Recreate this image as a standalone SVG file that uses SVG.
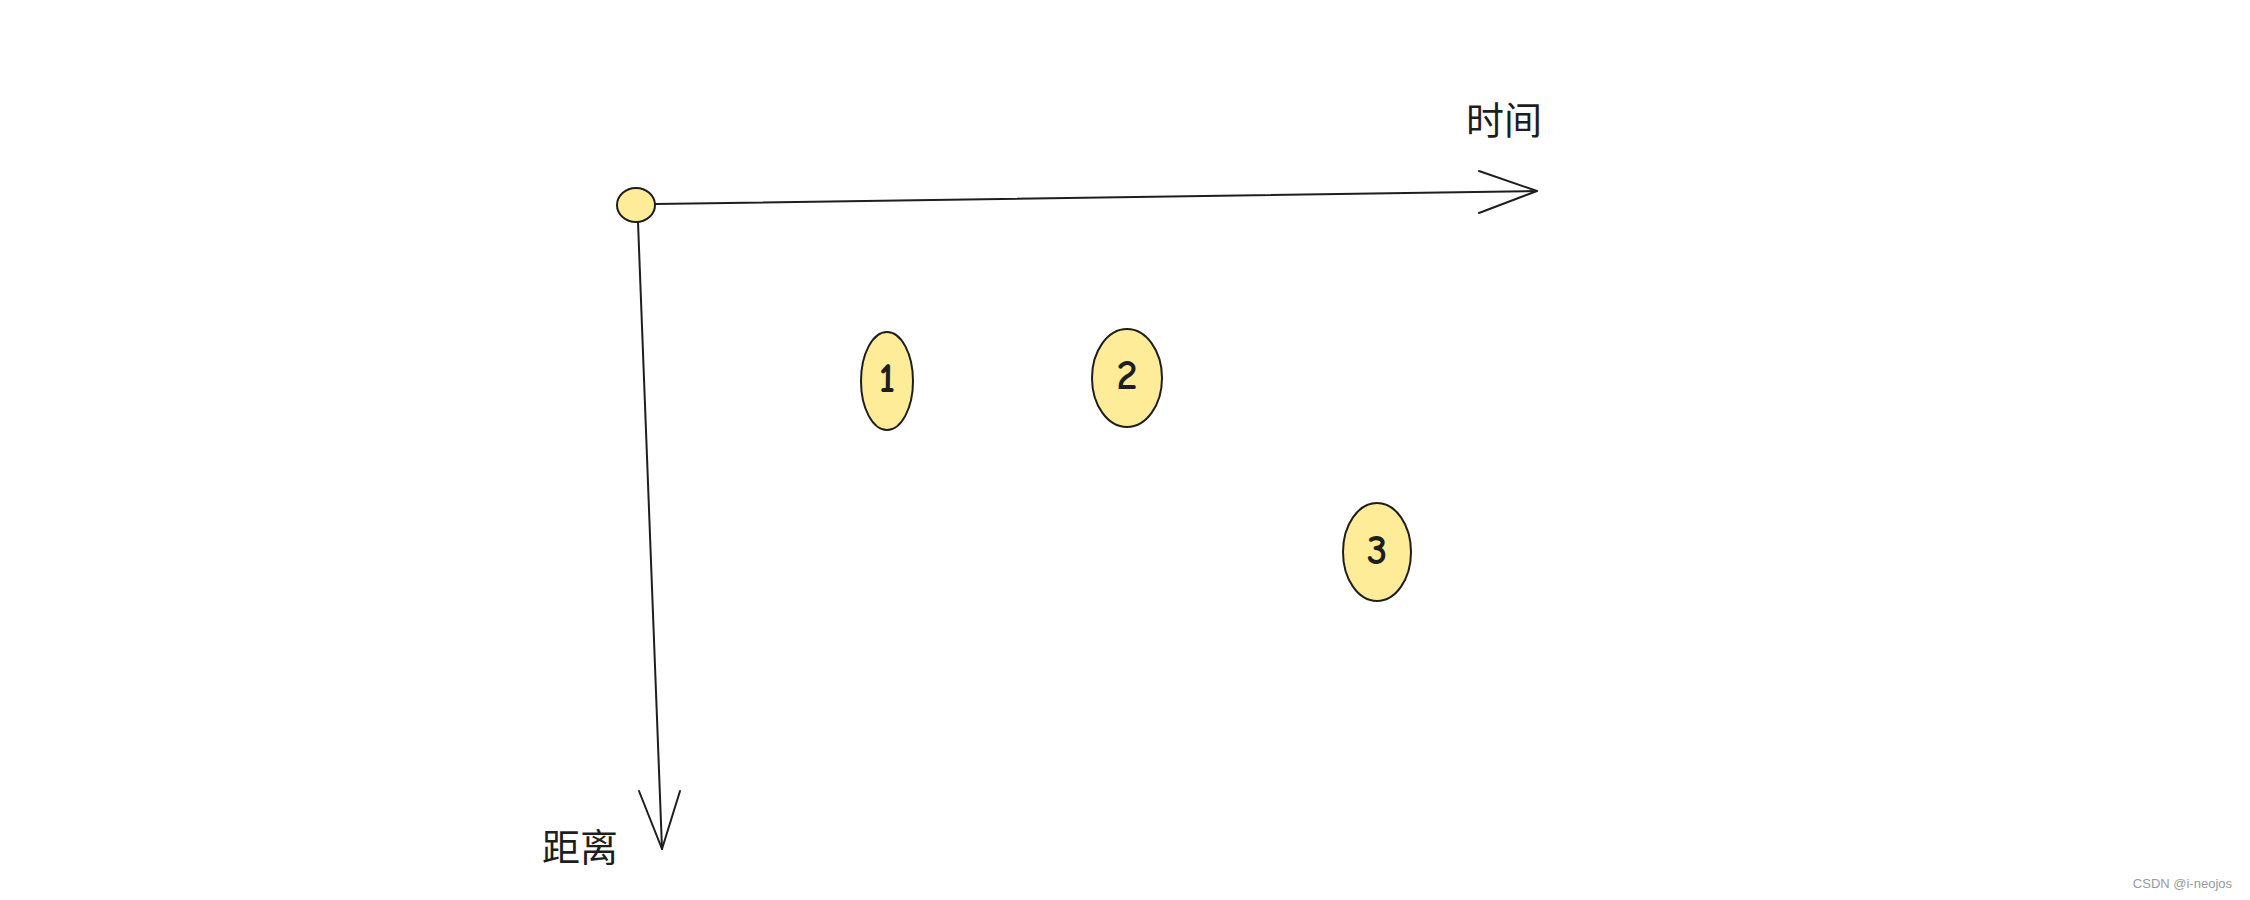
<svg xmlns="http://www.w3.org/2000/svg" width="2250" height="900" viewBox="0 0 2250 900">
<style>
.node{fill:#ffec99;stroke:#1e1e1e;stroke-width:2}
.edge{fill:none;stroke:#1e1e1e;stroke-width:2;stroke-linecap:round;stroke-linejoin:round}
.num{font-family:"Comic Neue","DejaVu Sans",sans-serif;font-size:42px;font-weight:bold;fill:#1e1e1e;text-anchor:middle;dominant-baseline:central}
.lbl{font-family:"Noto Sans CJK SC","Noto Sans",sans-serif;font-size:38px;fill:#1e1e1e;text-anchor:middle;dominant-baseline:central}
.wm{font-family:"Liberation Sans",Arial,sans-serif;font-size:13px;fill:#9a9a9a;text-anchor:end}
</style>
<rect width="2250" height="900" fill="#ffffff"/>
<g id="connectors">
<path class="edge" d="M655 204 L1537 191"/>
<path class="edge" d="M1479 171 L1537 191 L1479 213"/>
<path class="edge" d="M638 222 L662 849"/>
<path class="edge" d="M639 791 L662 849 L680 791"/>
</g>
<g id="origin"><ellipse class="node" cx="636" cy="205" rx="19" ry="17"/></g>
<g id="node1"><ellipse class="node" cx="887" cy="381" rx="26" ry="49"/><text class="num" x="887" y="378">1</text></g>
<g id="node2"><ellipse class="node" cx="1127" cy="378" rx="35" ry="49"/><text class="num" x="1127" y="375">2</text></g>
<g id="node3"><ellipse class="node" cx="1377" cy="552" rx="34" ry="49"/><text class="num" x="1377" y="550">3</text></g>
<g id="label-time"><text class="lbl" x="1504" y="117">时间</text></g>
<g id="label-distance"><text class="lbl" x="580" y="844">距离</text></g>
<text class="wm" x="2232" y="888">CSDN @i-neojos</text>
</svg>
